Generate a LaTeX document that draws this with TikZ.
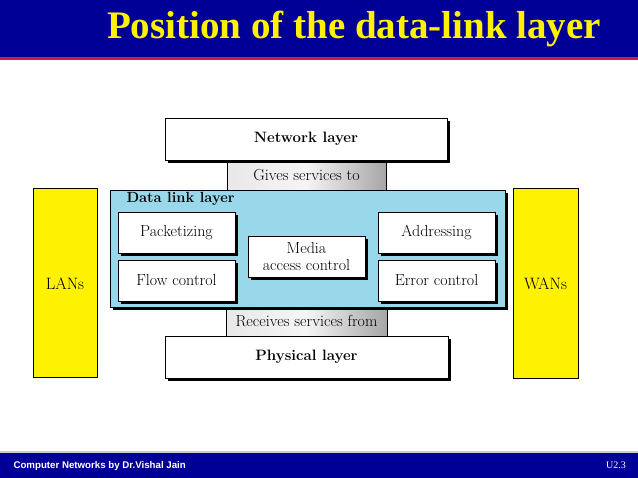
\documentclass[tikz,border=0pt]{standalone}
\usepackage{fontspec}
\usetikzlibrary{shadows}
\newfontfamily\titlefont{Liberation Serif}
\newfontfamily\footfont{Liberation Sans}
\definecolor{banner}{RGB}{0,0,150}
\definecolor{dllblue}{RGB}{152,216,234}
\definecolor{bannerrule}{RGB}{200,30,70}
\tikzset{
	layerbox/.style={draw, fill=white, inner sep=0pt, outer sep=0pt,
		drop shadow={shadow xshift=3pt, shadow yshift=-3pt, fill=black, opacity=1}},
	taskbox/.style={layerbox, minimum width=117pt, minimum height=41pt, align=center,
		font=\fontsize{16}{17}\selectfont},
	servicebox/.style={draw, inner sep=0pt, outer sep=0pt, left color=gray!18,
		right color=gray!70, middle color=white!92!gray, font=\fontsize{16}{17}\selectfont},
	netbox/.style={draw, fill=yellow, inner sep=0pt, outer sep=0pt, line width=1pt,
		minimum width=64pt, minimum height=189pt, font=\fontsize{16.5}{17}\selectfont}
}
\begin{document}
\begin{tikzpicture}[x=1pt, y=-1pt]
			\useasboundingbox (0,0) rectangle (638,478);
			% title and footer bars
			\fill[banner] (0,0) rectangle (638,57);
			\fill[bannerrule] (0,57) rectangle (638,60);
			\node[text=yellow, font=\titlefont\fontsize{39}{41}\selectfont\bfseries] (title) at (354,29) {Position of the data-link layer};
			\fill[gray!40] (0,451) rectangle (638,453);
			\fill[banner] (0,453) rectangle (638,478);
			\node[anchor=west, text=white, font=\footfont\fontsize{9.7}{11}\selectfont\bfseries] (author) at (10,465.5) {Computer Networks by Dr.Vishal Jain};
			\node[text=white, font=\titlefont\fontsize{10}{11}\selectfont] (page) at (616,465) {U2.3};
			% layers
			\node[servicebox, minimum width=159pt, minimum height=30pt] (gives) at (306.5,175) {Gives services to};
			\node[servicebox, minimum width=161pt, minimum height=29pt] (receives) at (306.5,321.5) {Receives services from};
			\node[layerbox, minimum width=282pt, minimum height=42pt, font=\fontsize{15}{17}\selectfont\bfseries] (network) at (306,139) {Network layer};
			\node[layerbox, minimum width=283pt, minimum height=42pt, font=\fontsize{15}{17}\selectfont\bfseries] (physical) at (306.5,357) {Physical layer};
			\node[layerbox, fill=dllblue, minimum width=395pt, minimum height=117pt] (datalink) at (307.5,248.5) {};
			\node[anchor=west, font=\fontsize{14.7}{17}\selectfont\bfseries] (dlltitle) at (123,199) {Data link layer};
			\node[taskbox] (packet) at (176.5,232.5) {Packetizing};
			\node[taskbox] (flow) at (176.5,280.5) {Flow control};
			\node[taskbox] (mac) at (306.5,256.5) {Media\\access control};
			\node[taskbox] (address) at (436.5,232.5) {Addressing};
			\node[taskbox] (error) at (436.5,280.5) {Error control};
			% networks on both sides
			\node[netbox] (lans) at (65,283.5) {LANs};
			\node[netbox, minimum width=65pt, minimum height=190pt] (wans) at (545.5,284) {WANs};
		\end{tikzpicture}
\end{document}
